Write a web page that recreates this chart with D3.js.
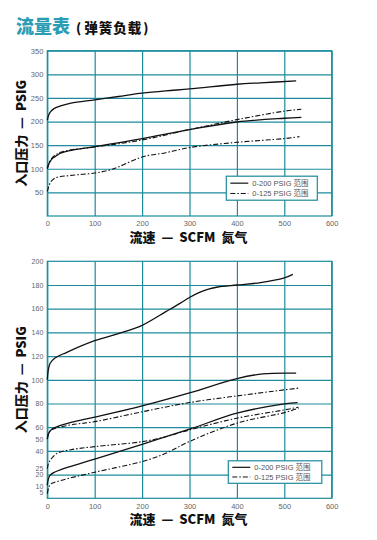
<!DOCTYPE html>
<html>
<head>
<meta charset="utf-8">
<script src="https://cdn.jsdelivr.net/npm/d3@7"></script>
<style>
  body { margin: 0; background: #fff; }
  svg { display: block; }
  .tick text { font-family: "Liberation Sans", Arial, sans-serif; font-size: 7.5px; fill: #666; }
  .axis-title { font-family: "Noto Sans CJK SC", sans-serif; font-weight: 900; font-size: 13px; fill: #111; }
</style>
</head>
<body>
<svg id="chart" width="377" height="540"></svg>
<script>
// ---- data (flow SCFM, inlet PSIG) ----
const flowTicks = [0, 100, 200, 300, 400, 500, 600];
const topPsigTicks = [50, 100, 150, 200, 250, 300, 350];
const botPsigTicks = [5, 10, 20, 25, 40, 50, 60, 80, 100, 120, 140, 160, 180, 200];
const botGridTicks = [20, 40, 60, 80, 100, 120, 140, 160, 180];
const legendLabels = ['0-200 PSIG 范围', '0-125 PSIG 范围'];

// upper chart
const top200High = [[0,203],[3,214],[7,221],[15,228],[28,233],[50,239],[100,246],[150,253],[200,260],[250,265],[300,269],[400,279],[450,282],[525,286]];
const top200Low  = [[0,101],[4,112],[11,122],[20,128],[28,133],[50,139],[100,147],[200,164],[300,183],[400,199],[500,207],[536,209]];
const top125High = [[0,100],[4,113],[11,124],[20,131],[28,135],[50,140],[100,146],[200,161],[300,183],[400,204],[500,222],[536,226]];
const top125Low  = [[0,52],[3,62],[7,72],[14,79],[21,82],[50,86],[100,91],[130,97],[150,104],[200,125],[250,134],[300,145],[400,156],[500,164],[532,168]];

// lower chart
const bot200A = [[0,100],[2,108],[6,114],[15,118],[40,123],[100,133],[150,139],[200,146],[250,157.5],[280,164.5],[300,169.5],[320,173.5],[340,176.5],[360,178.3],[400,180],[450,182],[500,186],[518,189]];
const bot200B = [[0,50],[3,55],[10,58.5],[21,60.5],[50,64],[100,68.5],[200,78],[300,89],[400,101],[455,105],[525,105.6]];
const bot125C = [[0,50],[3,55],[10,58],[21,59.5],[50,62],[100,64.7],[200,73],[300,80.8],[400,86.4],[500,91.5],[530,93]];
const bot200D = [[0,11],[2,16],[6,19.5],[15,22],[30,24.5],[100,33],[200,45.6],[300,58.3],[400,71.8],[500,79.7],[528,80.8]];
const bot125E = [[0,25],[3,30],[10,34],[21,38],[50,41],[100,43.6],[200,47.8],[250,52],[300,57.7],[400,67.6],[500,74.6],[530,76.9]];
const bot125F = [[0,4],[3,9],[7,12],[28,15],[100,22],[200,31],[250,38],[300,48],[400,63.4],[500,72.3],[530,76]];

const teal = '#1c8c9c';
const dashDot = '5,2,1.5,2';

const svg = d3.select('#chart');

// title
const title = svg.append('text')
    .attr('x', 16)
    .attr('y', 33)
    .style('font-family', '"Noto Sans CJK SC", sans-serif')
    .style('font-weight', 900);
title.append('tspan')
    .text('流量表')
    .style('font-size', '18px')
    .style('fill', '#2a9db4');
title.append('tspan')
    .attr('dx', 6)
    .text('(')
    .style('font-size', '13px')
    .style('fill', '#111');
title.append('tspan')
    .attr('dx', 3)
    .text('弹簧负载')
    .style('font-size', '13.5px')
    .style('letter-spacing', '1px')
    .style('fill', '#111');
title.append('tspan')
    .attr('dx', 1)
    .text(')')
    .style('font-size', '13px')
    .style('fill', '#111');

function drawChart(opt) {
    const g = svg.append('g').attr('transform', `translate(${opt.left},${opt.top})`);
    const w = opt.width, h = opt.height;

    const x = d3.scaleLinear().domain([0, 600]).range([0, w]);
    const y = d3.scaleLinear().domain([0, opt.yMax]).range([h, 0]);

    // grid
    g.append('g')
        .attr('transform', `translate(0,${h})`)
        .call(d3.axisBottom(x).tickValues(flowTicks).tickSize(-h).tickPadding(5).tickFormat(d3.format('d')))
        .call(a => a.select('.domain').remove())
        .call(a => a.selectAll('line').attr('stroke', teal).attr('stroke-width', 1.2));

    g.append('g')
        .call(d3.axisLeft(y).tickValues(opt.gridTicks).tickSize(-w).tickFormat(''))
        .call(a => a.select('.domain').remove())
        .call(a => a.selectAll('line').attr('stroke', teal).attr('stroke-width', 1.2));

    // y labels (a few sit close together, as on the original sheet)
    g.append('g')
        .call(d3.axisLeft(y).tickValues(opt.labelTicks).tickSize(0).tickPadding(4))
        .call(a => a.select('.domain').remove())
        .call(a => a.selectAll('.tick text').style('font-size', opt.labelSize || null));

    g.append('rect')
        .attr('width', w).attr('height', h)
        .attr('fill', 'none').attr('stroke', teal).attr('stroke-width', 1.2);

    const line = d3.line()
        .x(d => x(d[0]))
        .y(d => y(d[1]))
        .curve(d3.curveCatmullRom.alpha(0.5));

    opt.series.forEach(s => {
        g.append('path')
            .datum(s.data)
            .attr('d', line)
            .attr('fill', 'none')
            .attr('stroke', '#111')
            .attr('stroke-width', s.dash ? 1.1 : 1.3)
            .attr('stroke-dasharray', s.dash ? dashDot : null);
    });

    // legend
    const lg = g.append('g').attr('transform', `translate(${opt.legend.x},${opt.legend.y})`);
    lg.append('rect')
        .attr('width', opt.legend.w).attr('height', opt.legend.h)
        .attr('fill', '#fff').attr('stroke', teal).attr('stroke-width', 1.2);
    legendLabels.forEach((t, i) => {
        const ly = opt.legend.h * (i === 0 ? 0.29 : 0.72);
        lg.append('line')
            .attr('x1', 4).attr('x2', 22).attr('y1', ly).attr('y2', ly)
            .attr('stroke', '#111').attr('stroke-width', i === 0 ? 1.2 : 1)
            .attr('stroke-dasharray', i === 0 ? null : dashDot);
        lg.append('text')
            .attr('x', 26).attr('y', ly).attr('dy', '0.35em')
            .style('font-family', '"Liberation Sans", "Noto Sans CJK SC", sans-serif')
            .style('font-size', '7.5px').style('fill', '#555')
            .text(t);
    });

    // axis titles
    g.append('text')
        .attr('class', 'axis-title')
        .attr('x', w / 2 - 1)
        .attr('y', h + 26)
        .attr('text-anchor', 'middle')
        .attr('xml:space', 'preserve')
        .text('流速  —  SCFM  氮气');

    g.append('text')
        .attr('class', 'axis-title')
        .attr('transform', `translate(${-opt.left + 26},${h / 2}) rotate(-90)`)
        .attr('text-anchor', 'middle')
        .attr('xml:space', 'preserve')
        .text('入口压力  —  PSIG');
}

drawChart({
    left: 47.3, top: 50.7, width: 284.4, height: 165.3, yMax: 350,
    gridTicks: topPsigTicks, labelTicks: topPsigTicks,
    legend: {x: 179, y: 125.5, w: 91, h: 24},
    series: [
        {data: top200High, dash: false},
        {data: top200Low, dash: false},
        {data: top125High, dash: true},
        {data: top125Low, dash: true}
    ]
});

drawChart({
    left: 47.3, top: 261.3, width: 284.4, height: 237, yMax: 200,
    gridTicks: botGridTicks, labelTicks: botPsigTicks, labelSize: '7px',
    legend: {x: 181, y: 199.5, w: 93.5, h: 22.5},
    series: [
        {data: bot200A, dash: false},
        {data: bot200B, dash: false},
        {data: bot125C, dash: true},
        {data: bot200D, dash: false},
        {data: bot125E, dash: true},
        {data: bot125F, dash: true}
    ]
});
</script>
</body>
</html>
